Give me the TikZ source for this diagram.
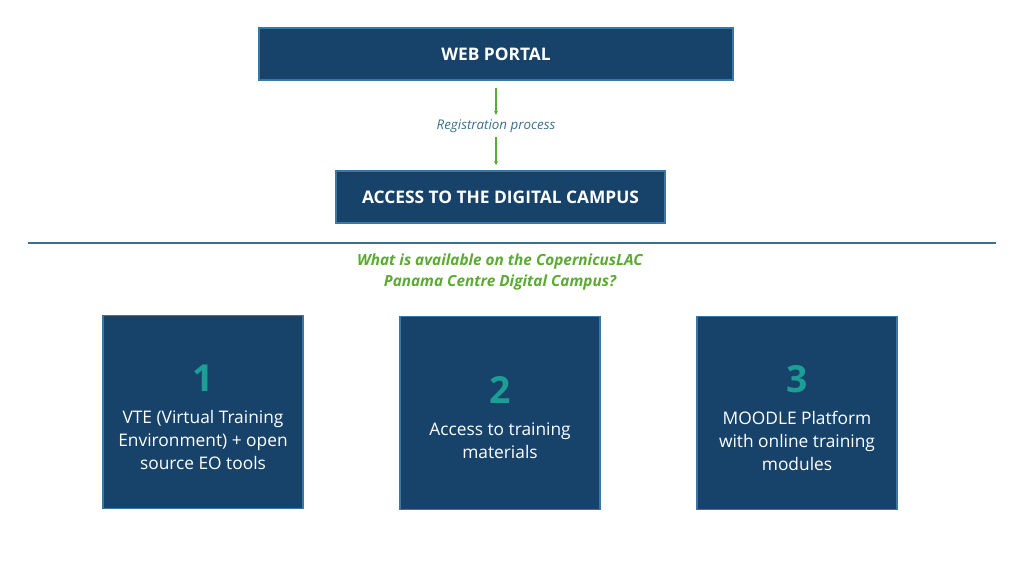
\documentclass[tikz,border=0pt]{standalone}
\usepackage{fontspec}
\setmainfont{Open Sans}
\usetikzlibrary{positioning, arrows.meta}
\definecolor{navy}{HTML}{17436B}
\definecolor{edge}{HTML}{3A77A3}
\definecolor{leaf}{HTML}{5BAA32}
\definecolor{teal}{HTML}{1C9E96}
\definecolor{slate}{HTML}{3A6F8F}
\begin{document}
\begin{tikzpicture}[
        x=0.75pt, y=-0.75pt,
        block/.style={rectangle, draw=edge, fill=navy, text=white, line width=0.8pt, font=\fontsize{13}{15}\selectfont\bfseries},
        item/.style={rectangle, draw=edge, fill=navy, text=white, line width=0.8pt, minimum width=150pt, minimum height=144.75pt},
        label/.style={align=center, text=white, font=\fontsize{13}{17}\selectfont},
        num/.style={text=teal, font=\fontsize{28}{30}\selectfont\bfseries},
        arrow/.style={-{Stealth[length=3pt, width=3pt]}, draw=leaf, line width=0.8pt}
      ]
        \useasboundingbox (0,0) rectangle (1024,576);
        % Top flow
        \node[block, minimum width=355.5pt, minimum height=39pt] (portal) at (496,54) {WEB PORTAL};
        \node[text=slate, font=\fontsize{10}{12}\selectfont\itshape] (reg) at (496,126) {Registration process};
        \node[block, minimum width=246.75pt, minimum height=39pt] (campus) at (500.5,197) {ACCESS TO THE DIGITAL CAMPUS};

        % Arrows
        \draw[arrow] (496,88) -- (reg.north);
        \draw[arrow] (reg.south) -- (496,165);

        % Divider
        \coordinate (lineL) at (28,243);
        \coordinate (lineR) at (996,243);
        \draw[slate, line width=1pt] (lineL) -- (lineR);
        \node[text=leaf, align=center, font=\fontsize{11.5}{15.5}\selectfont\bfseries\itshape] (question) at (500,272)
          {What is available on the CopernicusLAC\\Panama Centre Digital Campus?};

        % Items
        \node[item] (vte) at (203,412) {};
        \node[num] (n1) at (203,378) {1};
        \node[label] (t1) at (203,440) {VTE (Virtual Training\\Environment) + open\\source EO tools};

        \node[item] (mat) at (500,413) {};
        \node[num] (n2) at (500,390) {2};
        \node[label] (t2) at (500,441) {Access to training\\materials};

        \node[item] (moodle) at (797,413) {};
        \node[num] (n3) at (797,379) {3};
        \node[label] (t3) at (797,441) {MOODLE Platform\\with online training\\modules};
      \end{tikzpicture}
\end{document}
